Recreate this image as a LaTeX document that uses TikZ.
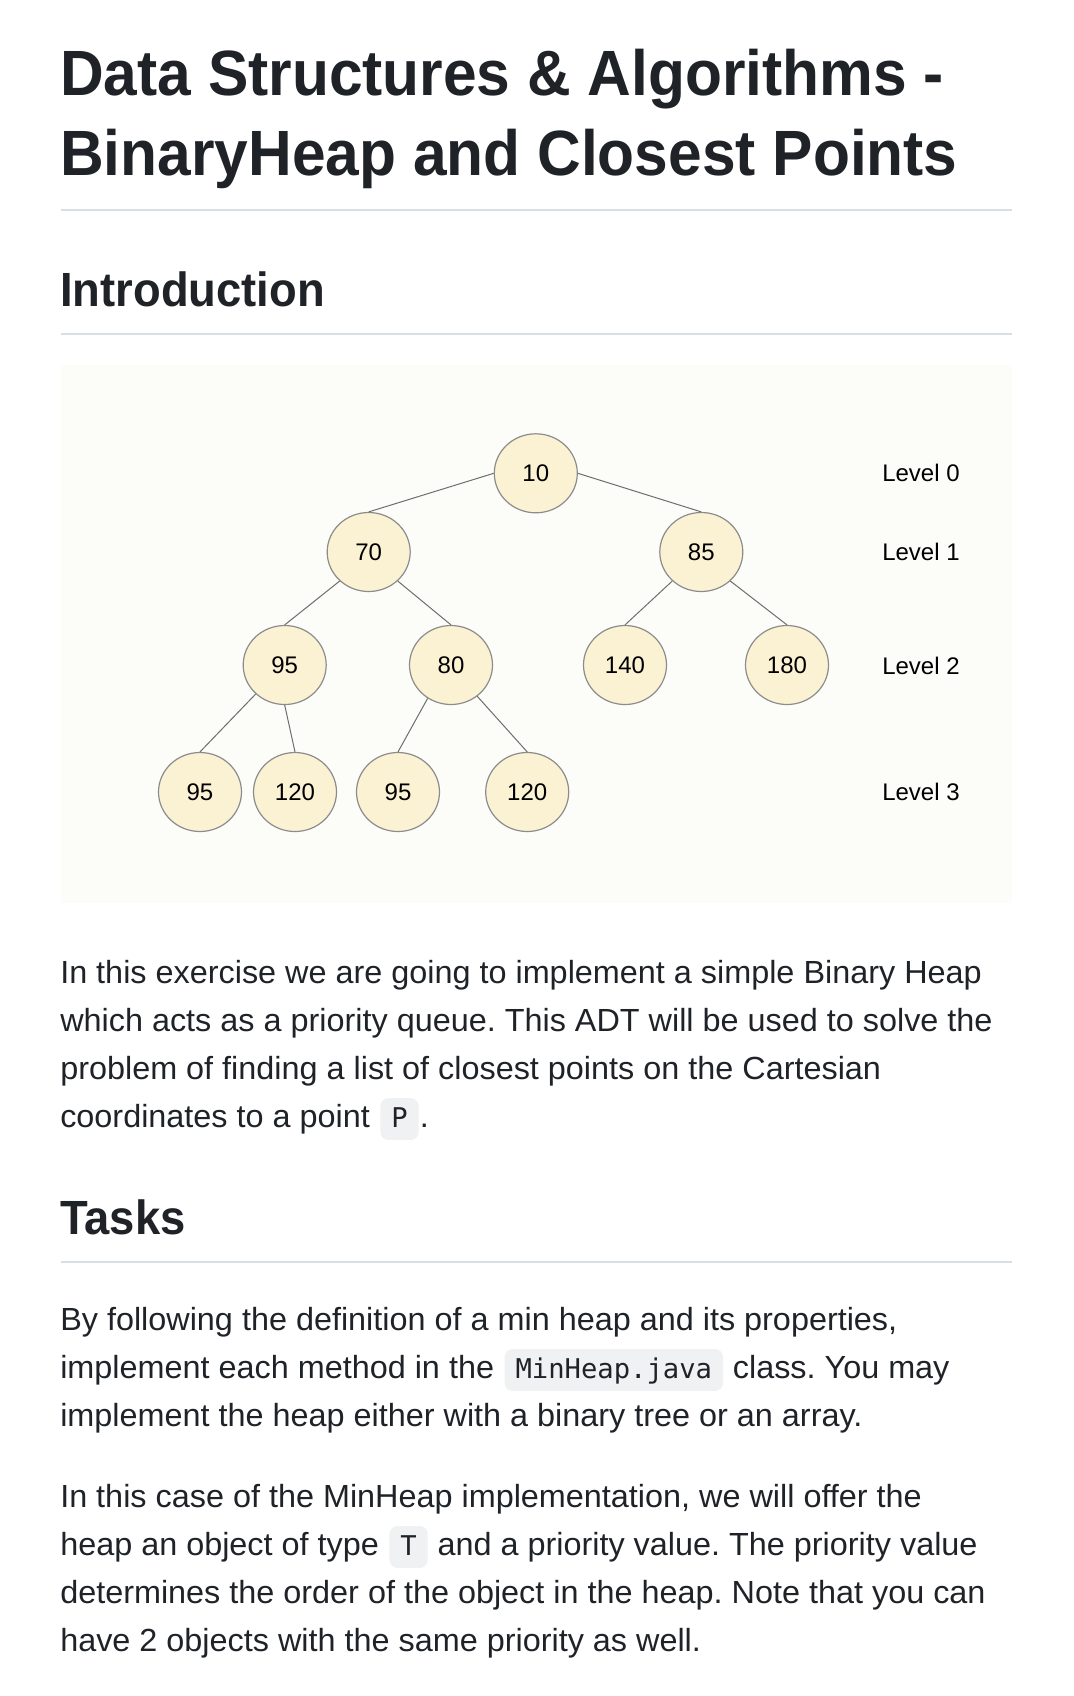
\documentclass[tikz,border=0pt]{standalone}
\usepackage{fontspec}
\setmainfont{Liberation Sans}[FakeStretch=1.012]
\setmonofont{DejaVu Sans Mono}
\newfontfamily\headfont{Liberation Sans}[FakeStretch=0.945]
\newfontfamily\heapfont{Liberation Sans}
\usetikzlibrary{positioning,shapes.geometric}
\frenchspacing

\definecolor{ghtext}{RGB}{31,35,40}
\definecolor{ghrule}{RGB}{216,222,228}
\definecolor{codebg}{RGB}{239,241,243}
\definecolor{heapfill}{RGB}{251,242,212}
\definecolor{heapline}{RGB}{140,140,140}
\definecolor{edgegray}{RGB}{110,110,110}
\definecolor{figbg}{RGB}{252,252,249}

\tikzset{
	h1text/.style={anchor=base west, inner sep=0pt, text=ghtext, font=\headfont\bfseries\fontsize{48}{60}\selectfont},
	h2text/.style={anchor=base west, inner sep=0pt, text=ghtext, font=\headfont\bfseries\fontsize{36}{45}\selectfont},
	bodytext/.style={anchor=base west, inner sep=0pt, text=ghtext, font=\fontsize{24}{36}\selectfont},
	codebox/.style={fill=codebg, rounded corners=6pt, inner xsep=8.2pt, inner ysep=4pt, text height=17.7pt, text depth=5.7pt, text=ghtext, font=\ttfamily\fontsize{20.4}{24}\selectfont},
	heapnode/.style={ellipse, draw=heapline, line width=0.9pt, fill=heapfill, minimum width=62.25pt, minimum height=59.25pt, inner sep=0pt, font=\heapfont\fontsize{18}{22}\selectfont},
	heapedge/.style={draw=edgegray, line width=0.75pt},
	levellabel/.style={anchor=base west, inner sep=0pt, font=\heapfont\fontsize{18}{22}\selectfont},
	hrule/.style={draw=ghrule, line width=1.5pt}
}

\begin{document}
\begin{tikzpicture}[x=0.75pt,y=-0.75pt]
	\useasboundingbox[fill=white] (0,0) rectangle (1074,1696);
	
	% title
	\node[h1text] (title1) at (60,95) {Data Structures \& Algorithms -};
	\node[h1text] (title2) at (60,175) {BinaryHeap and Closest Points};
	\draw[hrule] (60.5,210) -- (1012,210);
	
	\node[h2text] (intro) at (60,306.7) {Introduction};
	\draw[hrule] (60.5,334.3) -- (1012,334.3);
	
	% heap figure
	\fill[figbg] (60.7,365) rectangle (1011.7,903.3);
	
	\node[heapnode] (n10) at (535.8,473.3) {10};
	\node[heapnode] (n70) at (368.7,552) {70};
	\node[heapnode] (n85) at (701.3,552) {85};
	\node[heapnode] (n95a) at (284.7,665) {95};
	\node[heapnode] (n80) at (451,665) {80};
	\node[heapnode] (n140) at (625,665) {140};
	\node[heapnode] (n180) at (787,665) {180};
	\node[heapnode] (n95b) at (200,792) {95};
	\node[heapnode] (n120a) at (295,792) {120};
	\node[heapnode] (n95c) at (398,792) {95};
	\node[heapnode] (n120b) at (527.2,792) {120};
	
	\draw[heapedge] (n10.west) -- (n70.north);
	\draw[heapedge] (n10.east) -- (n85.north);
	\draw[heapedge] (n70.225) -- (n95a.north);
	\draw[heapedge] (n70.-45) -- (n80.north);
	\draw[heapedge] (n85.225) -- (n140.north);
	\draw[heapedge] (n85.-45) -- (n180.north);
	\draw[heapedge] (n95a.225) -- (n95b.north);
	\draw[heapedge] (n95a.south) -- (n120a.north);
	\draw[heapedge] (n80.235) -- (n95c.north);
	\draw[heapedge] (n80.-50) -- (n120b.north);
	
	\node[levellabel] (lvl0) at (882,481.6) {Level 0};
	\node[levellabel] (lvl1) at (882,560.5) {Level 1};
	\node[levellabel] (lvl2) at (882,674) {Level 2};
	\node[levellabel] (lvl3) at (882,800.5) {Level 3};
	
	% introduction text
	\node[bodytext] (p1a) at (60,983) {In this exercise we are going to implement a simple Binary Heap};
	\node[bodytext] (p1b) at (60,1031) {which acts as a priority queue. This ADT will be used to solve the};
	\node[bodytext] (p1c) at (60,1079) {problem of finding a list of closest points on the Cartesian};
	\node[bodytext] (p1d) at (60,1127) {coordinates to a point};
	\node[codebox, base right=7.5pt of p1d] (codeP) {P};
	\node[bodytext, base right=0.5pt of codeP] (p1e) {.};
	
	\node[h2text] (tasks) at (60,1234) {Tasks};
	\draw[hrule] (60.5,1261.7) -- (1012,1261.7);
	
	% tasks text
	\node[bodytext] (p2a) at (60,1330) {By following the definition of a min heap and its properties,};
	\node[bodytext] (p2b) at (60,1378) {implement each method in the};
	\node[codebox, base right=7.5pt of p2b] (codeMin) {MinHeap.java};
	\node[bodytext, base right=7pt of codeMin] (p2c) {class. You may};
	\node[bodytext] (p2d) at (60,1426.5) {implement the heap either with a binary tree or an array.};
	
	\node[bodytext] (p3a) at (60,1507) {In this case of the MinHeap implementation, we will offer the};
	\node[bodytext] (p3b) at (60,1555) {heap an object of type};
	\node[codebox, base right=7.5pt of p3b] (codeT) {T};
	\node[bodytext, base right=7pt of codeT] (p3c) {and a priority value. The priority value};
	\node[bodytext] (p3d) at (60,1603) {determines the order of the object in the heap. Note that you can};
	\node[bodytext] (p3e) at (60,1651) {have 2 objects with the same priority as well.};
\end{tikzpicture}
\end{document}
